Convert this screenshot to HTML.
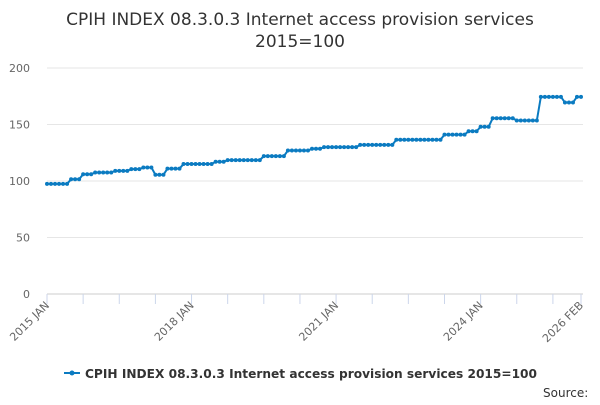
<!DOCTYPE html>
<html><head><meta charset="utf-8"><style>
body{margin:0;background:#fff;font-family:"Liberation Sans",sans-serif;}
svg text{font-family:"DejaVu Sans","Liberation Sans",sans-serif;}
</style></head><body>
<svg id="chart" width="600" height="400" xmlns="http://www.w3.org/2000/svg">
<text x="300" y="25" text-anchor="middle" font-size="17" fill="#333">CPIH INDEX 08.3.0.3 Internet access provision services</text>
<text x="300" y="47" text-anchor="middle" font-size="17" fill="#333">2015=100</text>
<g id="grid"></g><g id="xaxis"></g><g id="series"></g>
<g>
<line x1="64" y1="373" x2="80" y2="373" stroke="#0b7bc1" stroke-width="2"/>
<circle cx="72" cy="373" r="2.5" fill="#0b7bc1"/>
<text x="85" y="378" font-size="12.5" font-weight="bold" fill="#333" textLength="452" lengthAdjust="spacingAndGlyphs">CPIH INDEX 08.3.0.3 Internet access provision services 2015=100</text>
</g>
<text x="543" y="397" font-size="12" fill="#333">Source:</text>
</svg>
<script>
const yTicks=[0,50,100,150,200];
const xLabels=["2015 JAN","2018 JAN","2021 JAN","2024 JAN","2026 FEB"];
const xLabelIdx=[0,36,72,108,133];
const values=[97.5,97.5,97.5,97.5,97.5,97.5,101.5,101.5,101.5,106,106,106,
107.5,107.5,107.5,107.5,107.5,109,109,109,109,110.5,110.5,110.5,
112,112,112,105.5,105.5,105.5,111,111,111,111,115,115,
115,115,115,115,115,115,117,117,117,118.5,118.5,118.5,
118.5,118.5,118.5,118.5,118.5,118.5,122,122,122,122,122,122,
127,127,127,127,127,127,128.5,128.5,128.5,130,130,130,
130,130,130,130,130,130,132,132,132,132,132,132,
132,132,132,136.5,136.5,136.5,136.5,136.5,136.5,136.5,136.5,136.5,
136.5,136.5,136.5,141,141,141,141,141,141,144,144,144,
148,148,148,155.5,155.5,155.5,155.5,155.5,155.5,153.5,153.5,153.5,
153.5,153.5,153.5,174.5,174.5,174.5,174.5,174.5,174.5,169.5,169.5,169.5,
174.5,174.5];
const NS="http://www.w3.org/2000/svg";
const x0=47,x1=581,yb=294,yt=68;
function xs(i){return x0+(x1-x0)*i/(values.length-1);}
function ys(v){return yb-(yb-yt)*v/200;}
function mk(t,a,p){const e=document.createElementNS(NS,t);for(const k in a)e.setAttribute(k,a[k]);p.appendChild(e);return e;}
const grid=document.getElementById('grid');
yTicks.forEach(v=>{
 const l=mk('line',{x1:47,x2:583,y1:ys(v),y2:ys(v),stroke:v===0?'#ccc':'#e6e6e6'},grid);
 
 
 const t=mk('text',{x:30,y:ys(v)+4,'text-anchor':'end','font-size':11,fill:'#666'},grid);
 t.textContent=v;
 
 
});
const xa=document.getElementById('xaxis');
for(let i=0;i<values.length;i+=9){
 const l=mk('line',{x1:xs(i),x2:xs(i),y1:294,y2:304,stroke:'#ccd6eb'},xa);
 
 
}
mk('line',{x1:xs(133),x2:xs(133),y1:294,y2:304,stroke:'#ccd6eb'},xa);
xLabels.forEach((s,k)=>{
 const x=xs(xLabelIdx[k]);
 const t=mk('text',{x:x+3,y:306,'text-anchor':'end','font-size':11,fill:'#666',transform:`rotate(-45 ${x+3} 306)`},xa);
 t.textContent=s;
 
 
});
const sg=document.getElementById('series');
const pl=mk('polyline',{points:values.map((v,i)=>xs(i)+','+ys(v)).join(' '),fill:'none',stroke:'#0b7bc1','stroke-width':2},sg);


values.forEach((v,i)=>{
 const c=mk('circle',{cx:xs(i),cy:ys(v),r:2,fill:'#0b7bc1'},sg);
 
 
});
</script>
</body></html>
